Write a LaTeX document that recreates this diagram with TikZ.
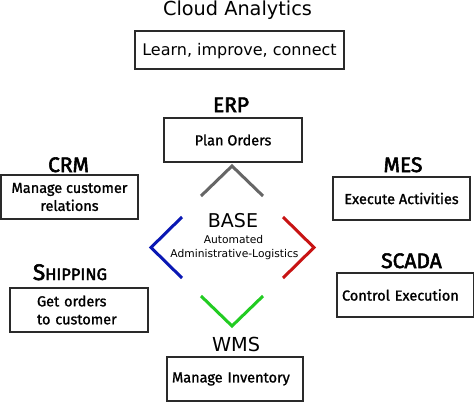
\documentclass[tikz,border=0pt]{standalone}
\usepackage{fontspec}
\setmainfont{DejaVu Sans}
\newfontfamily\dinfont{Fira Sans}[FakeBold=1.2]
\newfontfamily\dinhead{Fira Sans}[FakeBold=2.6]
\definecolor{chgray}{HTML}{666666}
\definecolor{chblue}{HTML}{0A18B4}
\definecolor{chred}{HTML}{C81414}
\definecolor{chgreen}{HTML}{22CC22}
\definecolor{boxline}{HTML}{2A2A2A}
\tikzset{
  heading/.style={anchor=base, inner sep=0pt, font=\dinhead\fontsize{21}{24}\selectfont},
  boxstyle/.style={draw=boxline, line width=1.3pt, inner sep=0pt, font=\dinfont\fontsize{14.5}{18}\selectfont},
  chevron/.style={line width=3pt, line cap=butt, line join=miter},
}
\begin{document}
\begin{tikzpicture}[x=1pt, y=-1pt]
\useasboundingbox[fill=white] (0,0) rectangle (474,402);

% top
\node[anchor=base, inner sep=0pt, font=\fontsize{19.3}{22}\selectfont] (cloud) at (237.5,15) {Cloud Analytics};
\node[draw=boxline, line width=1.3pt, minimum width=209pt, minimum height=38pt, inner sep=0pt] (learnbox) at (239.5,50) {};
\node[anchor=base, inner sep=0pt, font=\fontsize{16}{19}\selectfont] (learn) at (239.5,55) {Learn, improve, connect};

% ERP
\node[heading] (erp) at (231,112) {ERP};
\node[boxstyle, minimum width=138pt, minimum height=44pt] (plan) at (233,140) {Plan Orders};

% CRM
\node[heading] (crm) at (68.5,172) {CRM};
\node[boxstyle, minimum width=137pt, minimum height=44pt, align=center] (manage) at (69.5,197) {Manage customer\\relations};

% MES
\node[heading] (mes) at (403,172) {MES};
\node[boxstyle, minimum width=137pt, minimum height=43pt] (execute) at (401.5,198.5) {Execute Activities};

% SHIPPING
\node[anchor=base, inner sep=0pt, font=\dinhead] (ship) at (70,280) {\fontsize{22.5}{26}\selectfont S\fontsize{16.5}{20}\selectfont HIPPING};
\node[boxstyle, minimum height=44pt, text width=84pt, inner xsep=27pt, align=left] (getorders) at (79,310) {Get orders\\to customer};

% SCADA
\node[heading] (scada) at (411.5,268) {SCADA};
\node[boxstyle, minimum height=44pt, text width=127pt, inner xsep=5pt, align=left] (control) at (405.5,295) {Control Execution};

% WMS
\node[anchor=base, inner sep=0pt, font=\fontsize{19.3}{22}\selectfont] (wms) at (236,351) {WMS};
\node[boxstyle, minimum height=44pt, text width=126pt, inner xsep=5pt, align=left] (inventory) at (235,379) {Manage Inventory};

% BASE
\node[anchor=base, inner sep=0pt, font=\fontsize{19}{22}\selectfont] (base) at (233,227) {BASE};
\node[anchor=base, inner sep=0pt, font=\fontsize{10.7}{13}\selectfont] (auto) at (233.5,243.5) {Automated};
\node[anchor=base, inner sep=0pt, font=\fontsize{10.7}{13}\selectfont] (admin) at (234.5,257) {Administrative-Logistics};

% chevrons
\draw[chevron, chgray] (201,196) -- (232,166) -- (263,196);
\draw[chevron, chblue] (182,217) -- (151,247.5) -- (182,278);
\draw[chevron, chred] (283,217) -- (314,247.5) -- (283,278);
\draw[chevron, chgreen] (201,296) -- (232,326) -- (263,296);
\end{tikzpicture}
\end{document}
